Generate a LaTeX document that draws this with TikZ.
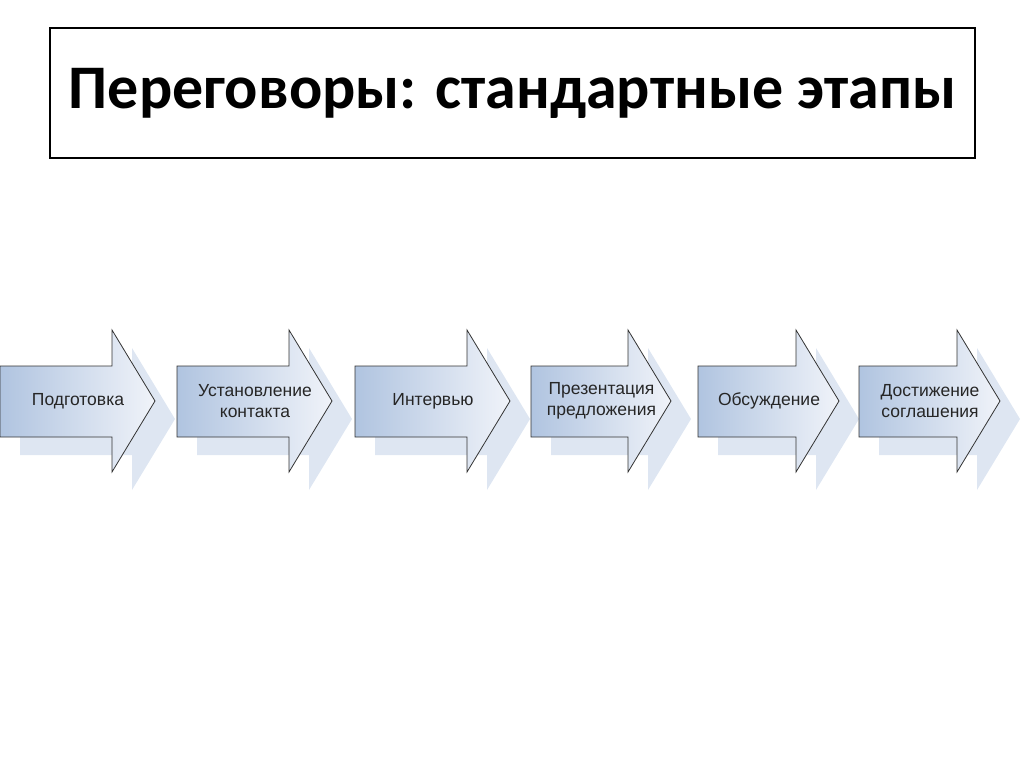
\documentclass[tikz,border=0pt]{standalone}
\usepackage{fontspec}
\setmainfont{Liberation Sans}
\newfontfamily\titlefont{Carlito}
\definecolor{arrdark}{RGB}{176,196,224}
\definecolor{arrlight}{RGB}{240,243,249}
\definecolor{shad}{RGB}{222,230,242}
\begin{document}
\begin{tikzpicture}[x=1pt,y=-1pt,
  lbl/.style={font=\fontsize{17.5}{21}\selectfont,align=center,text=black!85}]
\useasboundingbox (0,0) rectangle (1024,767);
\node[draw,line width=1.5pt,minimum width=925pt,minimum height=130pt,font=\titlefont\bfseries\fontsize{62}{70}\selectfont] (title) at (512.5,93) {Переговоры: стандартные этапы};
\foreach \n/\xa/\xh/\t in {a/0/112/Подготовка, b/177/289/{Установление\\контакта}, c/355/467/Интервью, d/531/628/{Презентация\\предложения}, e/698/796/Обсуждение, f/859/957/{Достижение\\соглашения}}{
  \fill[shad] (\xa+20,384) -- (\xh+20,384) -- (\xh+20,348) -- (\xh+63,419) -- (\xh+20,490) -- (\xh+20,455) -- (\xa+20,455) -- cycle;
  \draw[black!80,line width=0.8pt,left color=arrdark,right color=arrlight] (\xa,366) -- (\xh,366) -- (\xh,330) -- (\xh+43,401) -- (\xh,472) -- (\xh,437) -- (\xa,437) -- cycle;
  \node[lbl] (\n) at ({(\xa+\xh)/2+22},401) {\t};
}
\end{tikzpicture}
\end{document}
